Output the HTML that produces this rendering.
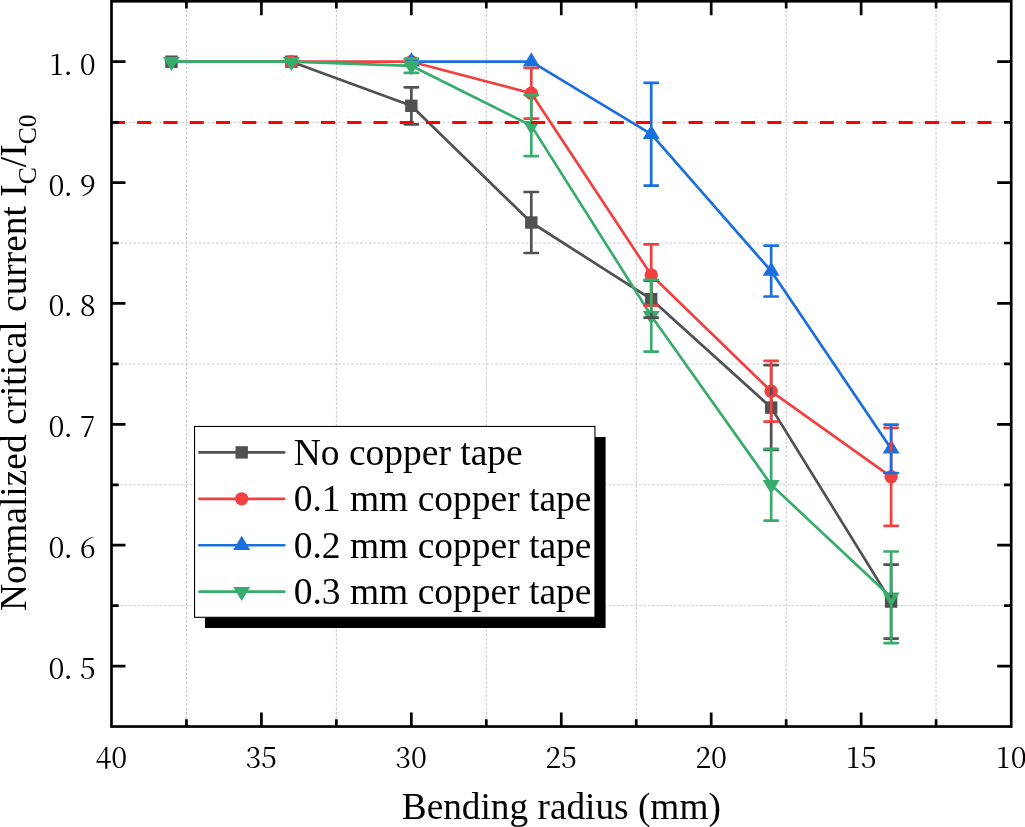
<!DOCTYPE html>
<html lang="en"><head><meta charset="utf-8"><title>Normalized critical current vs bending radius</title>
<style>html,body{margin:0;padding:0;background:#fff}svg{display:block}.t{font-family:"Liberation Serif","Times New Roman",serif;fill:#000}.k{font-family:"Noto Serif CJK SC","Liberation Serif",serif;font-weight:400;fill:#000}</style></head><body>
<svg width="1025" height="827" viewBox="0 0 1025 827">
<rect width="1025" height="827" fill="#fff"/>
<path d="M186.44 1.26V726.54M336.38 1.26V726.54M486.31 1.26V726.54M636.24 1.26V726.54M786.17 1.26V726.54M936.1 1.26V726.54" fill="none" stroke="#bdbdbd" stroke-width="0.9" stroke-dasharray="2.6 1.76"/>
<path d="M111.48 122.4H1011.21M111.48 243.02H1011.21M111.48 363.9H1011.21M111.48 484.78H1011.21M111.48 605.66H1011.21" fill="none" stroke="#c6c6c6" stroke-width="0.9" stroke-dasharray="2.6 1.76"/>
<g><polyline points="171.45,61.7 291.4,61.7 411.34,105.8 531.28,222.5 651.23,299.2 771.17,407.6 891.12,601.6" fill="none" stroke="#515151" stroke-width="2.7" stroke-linejoin="round" stroke-linecap="round"/>
<rect x="165.25" y="55.5" width="12.4" height="12.4" fill="#515151"/>
<rect x="285.2" y="55.5" width="12.4" height="12.4" fill="#515151"/>
<rect x="405.14" y="99.6" width="12.4" height="12.4" fill="#515151"/>
<rect x="525.08" y="216.3" width="12.4" height="12.4" fill="#515151"/>
<rect x="645.03" y="293" width="12.4" height="12.4" fill="#515151"/>
<rect x="764.97" y="401.4" width="12.4" height="12.4" fill="#515151"/>
<rect x="884.92" y="595.4" width="12.4" height="12.4" fill="#515151"/>
</g>
<g><polyline points="291.4,61.7 411.34,61.7 531.28,93.3 651.23,275 771.17,391.3 891.12,476.8" fill="none" stroke="#F14040" stroke-width="2.7" stroke-linejoin="round" stroke-linecap="round"/>
<circle cx="291.4" cy="61.7" r="6.7" fill="#F14040"/>
<circle cx="411.34" cy="61.7" r="6.7" fill="#F14040"/>
<circle cx="531.28" cy="93.3" r="6.7" fill="#F14040"/>
<circle cx="651.23" cy="275" r="6.7" fill="#F14040"/>
<circle cx="771.17" cy="391.3" r="6.7" fill="#F14040"/>
<circle cx="891.12" cy="476.8" r="6.7" fill="#F14040"/>
</g>
<g><polyline points="411.34,61.7 531.28,61.7 651.23,134.2 771.17,271.1 891.12,448.8" fill="none" stroke="#1A6FDF" stroke-width="2.7" stroke-linejoin="round" stroke-linecap="round"/>
<polygon points="411.34,52.3 419.84,66.4 402.84,66.4" fill="#1A6FDF"/>
<polygon points="531.28,52.3 539.78,66.4 522.78,66.4" fill="#1A6FDF"/>
<polygon points="651.23,124.8 659.73,138.9 642.73,138.9" fill="#1A6FDF"/>
<polygon points="771.17,261.7 779.67,275.8 762.67,275.8" fill="#1A6FDF"/>
<polygon points="891.12,439.4 899.62,453.5 882.62,453.5" fill="#1A6FDF"/>
</g>
<g><polyline points="171.45,61.7 291.4,61.7 411.34,65.8 531.28,125.6 651.23,315.7 771.17,484.8 891.12,597.3" fill="none" stroke="#37AD6B" stroke-width="2.7" stroke-linejoin="round" stroke-linecap="round"/>
<polygon points="171.45,71.1 179.95,57 162.95,57" fill="#37AD6B"/>
<polygon points="291.4,71.1 299.9,57 282.9,57" fill="#37AD6B"/>
<polygon points="411.34,75.2 419.84,61.1 402.84,61.1" fill="#37AD6B"/>
<polygon points="531.28,135 539.78,120.9 522.78,120.9" fill="#37AD6B"/>
<polygon points="651.23,325.1 659.73,311 642.73,311" fill="#37AD6B"/>
<polygon points="771.17,494.2 779.67,480.1 762.67,480.1" fill="#37AD6B"/>
<polygon points="891.12,606.7 899.62,592.6 882.62,592.6" fill="#37AD6B"/>
</g>
<path d="M404.64 87.3H418.04M404.64 124.3H418.04M411.34 87.3V101.1M411.34 110.5V124.3M524.58 192H537.98M524.58 253H537.98M531.28 192V217.8M531.28 227.2V253M644.53 280.7H657.93M644.53 317.7H657.93M651.23 280.7V294.5M651.23 303.9V317.7M764.47 365.2H777.87M764.47 450H777.87M771.17 365.2V402.9M771.17 412.3V450M884.42 564.6H897.82M884.42 638.6H897.82M891.12 564.6V596.9M891.12 606.3V638.6" fill="none" stroke="#515151" stroke-width="2.7" stroke-linecap="round"/>
<path d="M524.58 68H537.98M524.58 118.6H537.98M531.28 68V88.4M531.28 98.2V118.6M644.53 244.4H657.93M644.53 305.6H657.93M651.23 244.4V270.1M651.23 279.9V305.6M764.47 360.9H777.87M764.47 421.7H777.87M771.17 360.9V386.4M771.17 396.2V421.7M884.42 427.8H897.82M884.42 525.8H897.82M891.12 427.8V471.9M891.12 481.7V525.8" fill="none" stroke="#F14040" stroke-width="2.7" stroke-linecap="round"/>
<path d="M644.53 82.8H657.93M644.53 185.6H657.93M651.23 82.8V125.8M651.23 137.9V185.6M764.47 245.7H777.87M764.47 296.5H777.87M771.17 245.7V262.7M771.17 274.8V296.5M884.42 424.6H897.82M884.42 473H897.82M891.12 424.6V440.4M891.12 452.5V473" fill="none" stroke="#1A6FDF" stroke-width="2.7" stroke-linecap="round"/>
<path d="M404.64 58.7H418.04M404.64 72.9H418.04M411.34 58.7V62.1M524.58 95.1H537.98M524.58 156.1H537.98M531.28 95.1V121.9M531.28 134V156.1M644.53 279.8H657.93M644.53 351.6H657.93M651.23 279.8V312M651.23 324.1V351.6M764.47 448.9H777.87M764.47 520.7H777.87M771.17 448.9V481.1M771.17 493.2V520.7M884.42 551.5H897.82M884.42 643.1H897.82M891.12 551.5V593.6M891.12 605.7V643.1" fill="none" stroke="#37AD6B" stroke-width="2.7" stroke-linecap="round"/>
<line x1="110.9" y1="122.4" x2="1003" y2="122.4" stroke="#FF0000" stroke-width="3" stroke-dasharray="14.05 12.21"/>
<path d="M186.44 726.54v-7.2M186.44 1.26v7.2M261.41 726.54v-14M261.41 1.26v14M336.38 726.54v-7.2M336.38 1.26v7.2M411.34 726.54v-14M411.34 1.26v14M486.31 726.54v-7.2M486.31 1.26v7.2M561.27 726.54v-14M561.27 1.26v14M636.24 726.54v-7.2M636.24 1.26v7.2M711.2 726.54v-14M711.2 1.26v14M786.17 726.54v-7.2M786.17 1.26v7.2M861.13 726.54v-14M861.13 1.26v14M936.1 726.54v-7.2M936.1 1.26v7.2M111.48 666.1h14M1011.21 666.1h-14M111.48 605.66h7.2M1011.21 605.66h-7.2M111.48 545.22h14M1011.21 545.22h-14M111.48 484.78h7.2M1011.21 484.78h-7.2M111.48 424.34h14M1011.21 424.34h-14M111.48 363.9h7.2M1011.21 363.9h-7.2M111.48 303.46h14M1011.21 303.46h-14M111.48 243.02h7.2M1011.21 243.02h-7.2M111.48 182.58h14M1011.21 182.58h-14M111.48 122.4h7.2M1011.21 122.4h-7.2M111.48 61.7h14M1011.21 61.7h-14" fill="none" stroke="#000" stroke-width="2.7"/>
<rect x="111.48" y="1.26" width="899.73" height="725.28" fill="none" stroke="#000" stroke-width="2.7"/>
<g class="k" font-size="28.6" text-anchor="middle">
<text x="103.43 119.13" y="768.1">40</text>
<text x="253.36 269.06" y="768.1">35</text>
<text x="403.29 418.99" y="768.1">30</text>
<text x="553.22 568.92" y="768.1">25</text>
<text x="703.15 718.85" y="768.1">20</text>
<text x="853.08 868.78" y="768.1">15</text>
<text x="1003.01 1018.71" y="768.1">10</text>
<text x="56.5 68.1 87.7" y="74.7">1.0</text>
<text x="56.5 68.1 87.7" y="195.58">0.9</text>
<text x="56.5 68.1 87.7" y="316.46">0.8</text>
<text x="56.5 68.1 87.7" y="437.34">0.7</text>
<text x="56.5 68.1 87.7" y="558.22">0.6</text>
<text x="56.5 68.1 87.7" y="679.1">0.5</text>
</g>
<text class="t" font-size="37.3" x="561.3" y="818.9" text-anchor="middle">Bending radius (mm)</text>
<text class="t" font-size="37.4" text-anchor="middle" transform="translate(26.4 362.7) rotate(-90)">Normalized critical current I<tspan font-size="25.6" dy="9.2">C</tspan><tspan dy="-9.2">/I</tspan><tspan font-size="25.6" dy="9.2">C0</tspan></text>
<path d="M205 617.3H595V437.1H605.6V627.9H205Z" fill="#000"/>
<rect x="194.55" y="426.45" width="400.4" height="190.85" fill="#fff" stroke="#000" stroke-width="1.1"/>
<line x1="199.4" y1="452.4" x2="284.2" y2="452.4" stroke="#515151" stroke-width="2.7" stroke-linecap="round"/>
<rect x="235.5" y="446.2" width="12.4" height="12.4" fill="#515151"/>
<text class="t" font-size="37.5" x="293.7" y="464.7">No copper tape</text>
<line x1="199.4" y1="498.83" x2="284.2" y2="498.83" stroke="#F14040" stroke-width="2.7" stroke-linecap="round"/>
<circle cx="241.7" cy="498.83" r="6.7" fill="#F14040"/>
<text class="t" font-size="37.5" x="293.7" y="511.13">0.1 mm copper tape</text>
<line x1="199.4" y1="545.26" x2="284.2" y2="545.26" stroke="#1A6FDF" stroke-width="2.7" stroke-linecap="round"/>
<polygon points="241.7,535.86 250.2,549.96 233.2,549.96" fill="#1A6FDF"/>
<text class="t" font-size="37.5" x="293.7" y="557.56">0.2 mm copper tape</text>
<line x1="199.4" y1="591.69" x2="284.2" y2="591.69" stroke="#37AD6B" stroke-width="2.7" stroke-linecap="round"/>
<polygon points="241.7,601.09 250.2,586.99 233.2,586.99" fill="#37AD6B"/>
<text class="t" font-size="37.5" x="293.7" y="603.99">0.3 mm copper tape</text>
</svg></body></html>
